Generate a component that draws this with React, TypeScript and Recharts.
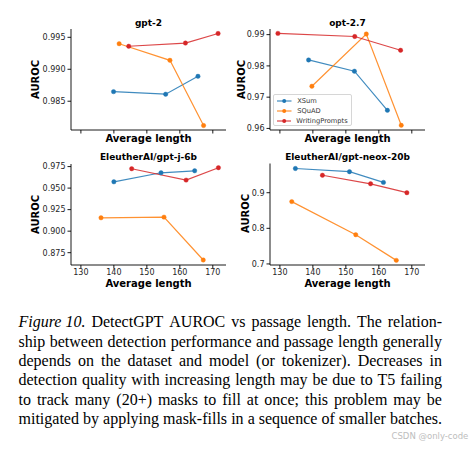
import React from 'react';
import { LineChart, Line, XAxis, YAxis, Legend } from 'recharts';

const BLUE = '#1f77b4';
const ORANGE = '#ff7f0e';
const RED = '#d62728';

const seriesNames = ['XSum', 'SQuAD', 'WritingPrompts'];
const seriesColors = [BLUE, ORANGE, RED];

const xTicks = [130, 140, 150, 160, 170];
const xDomain = [127, 174];

// gpt-2
const gpt2XSum = [{ x: 139.9, y: 0.9865 }, { x: 155.7, y: 0.9861 }, { x: 165.5, y: 0.9889 }];
const gpt2SQuAD = [{ x: 141.6, y: 0.994 }, { x: 157.0, y: 0.9914 }, { x: 167.2, y: 0.9812 }];
const gpt2WP = [{ x: 144.5, y: 0.9936 }, { x: 161.7, y: 0.9941 }, { x: 171.6, y: 0.9956 }];
const gpt2YTicks = [0.985, 0.99, 0.995];
const gpt2YDomain = [0.9805, 0.9963];

// opt-2.7
const optXSum = [{ x: 138.7, y: 0.9819 }, { x: 152.6, y: 0.9783 }, { x: 162.6, y: 0.9658 }];
const optSQuAD = [{ x: 139.7, y: 0.9735 }, { x: 156.2, y: 0.9902 }, { x: 166.8, y: 0.961 }];
const optWP = [{ x: 129.4, y: 0.9904 }, { x: 152.7, y: 0.9894 }, { x: 166.6, y: 0.985 }];
const optYTicks = [0.96, 0.97, 0.98, 0.99];
const optYDomain = [0.9595, 0.9918];

// EleutherAI/gpt-j-6b
const gptjXSum = [{ x: 140.0, y: 0.9573 }, { x: 154.3, y: 0.9678 }, { x: 164.5, y: 0.9701 }];
const gptjSQuAD = [{ x: 136.1, y: 0.9155 }, { x: 155.2, y: 0.9163 }, { x: 167.1, y: 0.8665 }];
const gptjWP = [{ x: 145.4, y: 0.9725 }, { x: 161.9, y: 0.9593 }, { x: 171.7, y: 0.9737 }];
const gptjYTicks = [0.875, 0.9, 0.925, 0.95, 0.975];
const gptjYDomain = [0.8607, 0.978];

// EleutherAI/gpt-neox-20b
const neoxXSum = [{ x: 134.7, y: 0.968 }, { x: 151.1, y: 0.959 }, { x: 161.4, y: 0.929 }];
const neoxSQuAD = [{ x: 133.6, y: 0.875 }, { x: 153.0, y: 0.782 }, { x: 165.3, y: 0.71 }];
const neoxWP = [{ x: 142.9, y: 0.949 }, { x: 157.5, y: 0.925 }, { x: 168.5, y: 0.9 }];
const neoxYTicks = [0.7, 0.8, 0.9];
const neoxYDomain = [0.697, 0.982];

const captionLines = [
  'Figure 10. DetectGPT AUROC vs passage length. The relation-',
  'ship between detection performance and passage length generally',
  'depends on the dataset and model (or tokenizer). Decreases in',
  'detection quality with increasing length may be due to T5 failing',
  'to track many (20+) masks to fill at once; this problem may be',
  'mitigated by applying mask-fills in a sequence of smaller batches.',
];

const FONT = 'DejaVu Sans, sans-serif';
const tickStyle = { fontSize: 8, fill: '#262626', fontFamily: FONT };
const axisStyle = { stroke: '#000', strokeWidth: 0.9 };

const renderLegend = () => (
  <div
    style={{
      border: '1px solid #d6d6d6',
      borderRadius: 2,
      background: 'rgba(255,255,255,0.85)',
      padding: '0px 3px 0px 3px',
      boxSizing: 'border-box',
      width: 79,
      height: 31.5,
    }}
  >
    {seriesNames.map((n, i) => (
      <div key={n} style={{ display: 'flex', alignItems: 'center', height: 10, marginTop: i === 0 ? 0.5 : 0 }}>
        <svg width={15} height={6} style={{ display: 'block' }}>
          <line x1={0} y1={3} x2={14.5} y2={3} stroke={seriesColors[i]} strokeWidth={1.2} strokeOpacity={0.85} />
          <circle cx={7.2} cy={3} r={2} fill={seriesColors[i]} />
        </svg>
        <span style={{ marginLeft: 5.5, fontSize: 6.7, fontFamily: FONT, color: '#333', lineHeight: '10px', whiteSpace: 'nowrap' }}>{n}</span>
      </div>
    ))}
  </div>
);

type PanelProps = {
  left: number;
  top: number;
  width: number;
  height: number;
  marginTop: number;
  marginRight: number;
  yAxisWidth: number;
  xAxisHeight: number;
  yDomain: number[];
  yTicks: number[];
  yDigits: number;
  showXLabels: boolean;
  series: { x: number; y: number }[][];
  legend?: boolean;
};

function Panel(p: PanelProps) {
  return (
    <div style={{ position: 'absolute', left: p.left, top: p.top, width: p.width, height: p.height }}>
      <LineChart width={p.width} height={p.height} margin={{ top: p.marginTop, right: p.marginRight, bottom: 0, left: 0 }}>
        <XAxis
          type="number"
          dataKey="x"
          domain={xDomain}
          ticks={xTicks}
          allowDataOverflow
          height={p.xAxisHeight}
          tick={tickStyle}
          tickFormatter={(v: number) => (p.showXLabels ? String(v) : '')}
          tickSize={3.5}
          tickMargin={1}
          axisLine={axisStyle}
          tickLine={axisStyle}
          interval={0}
        />
        <YAxis
          type="number"
          domain={p.yDomain}
          ticks={p.yTicks}
          allowDataOverflow
          width={p.yAxisWidth}
          tick={tickStyle}
          tickFormatter={(v: number) => v.toFixed(p.yDigits)}
          tickSize={3.5}
          tickMargin={2}
          axisLine={axisStyle}
          tickLine={axisStyle}
          interval={0}
        />
        {p.series.map((s, i) => (
          <Line
            key={seriesNames[i]}
            data={s}
            dataKey="y"
            name={seriesNames[i]}
            type="linear"
            stroke={seriesColors[i]}
            strokeWidth={1.2}
            strokeOpacity={0.85}
            dot={{ r: 2.2, fill: seriesColors[i], stroke: seriesColors[i], strokeWidth: 0.4, strokeOpacity: 1 }}
            activeDot={false}
            isAnimationActive={false}
          />
        ))}
        {p.legend && (
          <Legend
            layout="vertical"
            align="center"
            verticalAlign="middle"
            content={renderLegend}
            wrapperStyle={{ left: 37.7, top: 94.2, width: 79, height: 31.5 }}
          />
        )}
      </LineChart>
    </div>
  );
}

const titleStyle = { fontFamily: FONT, fontWeight: 700, fontSize: 9, fill: '#000' } as const;
const labelStyle = { fontFamily: FONT, fontWeight: 700, fontSize: 10, fill: '#000' } as const;

export default function App() {
  return (
    <div style={{ position: 'absolute', left: 0, top: 0, width: 471, height: 450, background: '#fff', overflow: 'hidden' }}>
      <Panel left={0} top={0} width={235} height={145} marginTop={29} marginRight={9} yAxisWidth={71} xAxisHeight={15}
        yDomain={gpt2YDomain} yTicks={gpt2YTicks} yDigits={3} showXLabels={false} series={[gpt2XSum, gpt2SQuAD, gpt2WP]} />
      <Panel left={235} top={0} width={200} height={145} marginTop={29} marginRight={10} yAxisWidth={35} xAxisHeight={15}
        yDomain={optYDomain} yTicks={optYTicks} yDigits={2} showXLabels={false} series={[optXSum, optSQuAD, optWP]} legend />
      <Panel left={0} top={145} width={235} height={145} marginTop={19} marginRight={9} yAxisWidth={71} xAxisHeight={25}
        yDomain={gptjYDomain} yTicks={gptjYTicks} yDigits={3} showXLabels series={[gptjXSum, gptjSQuAD, gptjWP]} />
      <Panel left={235} top={145} width={200} height={145} marginTop={18.5} marginRight={10} yAxisWidth={35} xAxisHeight={25}
        yDomain={neoxYDomain} yTicks={neoxYTicks} yDigits={1} showXLabels series={[neoxXSum, neoxSQuAD, neoxWP]} />

      <svg width={471} height={300} style={{ position: 'absolute', left: 0, top: 0, pointerEvents: 'none' }}>
        <text x={148.5} y={26} textAnchor="middle" style={titleStyle}>gpt-2</text>
        <text x={347.5} y={26} textAnchor="middle" style={titleStyle}>opt-2.7</text>
        <text x={148.5} y={160} textAnchor="middle" style={titleStyle}>EleutherAI/gpt-j-6b</text>
        <text x={347.5} y={160} textAnchor="middle" style={titleStyle}>EleutherAI/gpt-neox-20b</text>

        <text x={148.5} y={141.5} textAnchor="middle" style={labelStyle}>Average length</text>
        <text x={347.5} y={141.5} textAnchor="middle" style={labelStyle}>Average length</text>
        <text x={148.5} y={286.7} textAnchor="middle" style={labelStyle}>Average length</text>
        <text x={347.5} y={286.7} textAnchor="middle" style={labelStyle}>Average length</text>

        <text x={39.3} y={79.5} textAnchor="middle" transform="rotate(-90 39.3 79.5)" style={labelStyle}>AUROC</text>
        <text x={244.7} y={79.5} textAnchor="middle" transform="rotate(-90 244.7 79.5)" style={labelStyle}>AUROC</text>
        <text x={39.3} y={214.5} textAnchor="middle" transform="rotate(-90 39.3 214.5)" style={labelStyle}>AUROC</text>
        <text x={249.3} y={213.5} textAnchor="middle" transform="rotate(-90 249.3 213.5)" style={labelStyle}>AUROC</text>
      </svg>

      <div style={{ position: 'absolute', left: 18.5, top: 312.2, width: 423.5, fontFamily: '"Liberation Serif", "Times New Roman", serif', fontSize: 16, color: '#000' }}>
        {captionLines.map((line, li) => {
          const words = line.split(' ');
          return (
            <div key={li} style={{ display: 'flex', justifyContent: 'space-between', height: 19.4, lineHeight: '19.4px', whiteSpace: 'nowrap' }}>
              {li === 0 ? (
                <>
                  <span style={{ fontStyle: 'italic' }}>{words[0] + '\u00a0' + words[1]}</span>
                  {words.slice(2).map((w, wi) => (
                    <span key={wi}>{w}</span>
                  ))}
                </>
              ) : (
                words.map((w, wi) => <span key={wi}>{w}</span>)
              )}
            </div>
          );
        })}
      </div>

      <div style={{ position: 'absolute', left: 391.5, top: 431, fontFamily: FONT, fontSize: 8.5, color: '#bdbdbd', whiteSpace: 'nowrap' }}>
        CSDN @only-code
      </div>
    </div>
  );
}
